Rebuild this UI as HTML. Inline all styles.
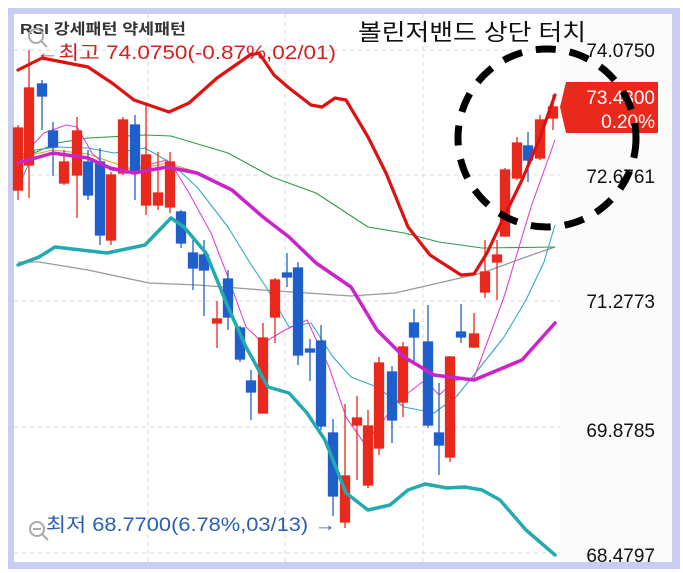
<!DOCTYPE html>
<html><head><meta charset="utf-8"><style>
html,body{margin:0;padding:0;background:#fff;}
svg{display:block;}
text{font-family:"Liberation Sans","Noto Sans CJK KR",sans-serif;}
</style></head><body>
<svg width="683" height="573" viewBox="0 0 683 573" xmlns="http://www.w3.org/2000/svg">
<rect x="0" y="0" width="683" height="573" fill="#fff"/>
<rect x="8" y="8" width="672" height="561" fill="#c9cdef"/>
<rect x="14" y="14" width="658" height="548" fill="#fff"/>
<rect x="560" y="14" width="112" height="548" fill="#fbfbfb"/>
<g stroke="#d8d8d8" stroke-width="1" stroke-dasharray="4,4">
<line x1="14" y1="50" x2="560" y2="50"/><line x1="14" y1="175" x2="560" y2="175"/>
<line x1="14" y1="301" x2="560" y2="301"/><line x1="14" y1="427" x2="560" y2="427"/>
<line x1="14" y1="553" x2="560" y2="553"/>
<line x1="148" y1="14" x2="148" y2="562"/><line x1="285" y1="14" x2="285" y2="562"/><line x1="423" y1="14" x2="423" y2="562"/>
</g>
<g fill="none" stroke-linejoin="round">
<polyline stroke="#999" stroke-width="1.3" points="18,262 39,262 88,270 149,283 197,285 263,290 351,296 395,293 430,285 482,273 526,257 555,247"/>
<polyline stroke="#2e9a4a" stroke-width="1.1" points="18,160 57,143 88,138 145,135 171,136 228,153 272,177 316,193 368,227 404,233 439,242 482,248 555,247"/>
<polyline stroke="#e0a020" stroke-width="1" points="18,158 53,150 88,154 134,170 167,163 197,172"/>
<polyline stroke="#33aabb" stroke-width="1.1" points="20,183 35,150 57,147 88,148 114,153 145,148 171,163 197,187 228,227 250,263 268,290 289,327 311,323 333,357 351,377 377,387 404,407 434,413 456,397 478,370 504,337 526,300 544,262 555,225"/>
<polyline stroke="#dd44cc" stroke-width="1.1" points="20,158 44,133 66,125 77,127 92,153 110,170 127,172 140,167 167,160 175,170 189,193 211,233 228,277 246,327 263,343 285,330 307,320 329,367 346,417 364,443 382,423 395,403 412,390 425,380 439,395 456,380 474,378 504,297 531,207 555,140"/>
</g>
<g stroke-width="1.3">
<g stroke="#e8291c" fill="#e8291c">
<line x1="18" y1="125" x2="18" y2="200"/><rect x="13.5" y="128" width="9" height="62"/>
<line x1="29" y1="50" x2="29" y2="198"/><rect x="24.5" y="88" width="9" height="77"/>
<line x1="64" y1="150" x2="64" y2="185"/><rect x="59.5" y="162" width="9" height="21"/>
<line x1="77" y1="117" x2="77" y2="218"/><rect x="72.5" y="131" width="9" height="44"/>
<line x1="111" y1="172" x2="111" y2="245"/><rect x="106.5" y="175" width="9" height="65"/>
<line x1="123" y1="117" x2="123" y2="175"/><rect x="118.5" y="120" width="9" height="53"/>
<line x1="146" y1="105" x2="146" y2="215"/><rect x="141.5" y="155" width="9" height="50"/>
<line x1="158" y1="152" x2="158" y2="210"/><rect x="153.5" y="193" width="9" height="12"/>
<line x1="170" y1="152" x2="170" y2="213"/><rect x="165.5" y="162" width="9" height="45"/>
<line x1="217" y1="301" x2="217" y2="348"/><rect x="212.5" y="319" width="9" height="4"/>
<line x1="263" y1="323" x2="263" y2="413"/><rect x="258.5" y="338" width="9" height="75"/>
<line x1="275" y1="278" x2="275" y2="343"/><rect x="270.5" y="280" width="9" height="37"/>
<line x1="345" y1="404" x2="345" y2="528"/><rect x="340.5" y="476" width="9" height="46"/>
<line x1="357" y1="396" x2="357" y2="480"/><rect x="352.5" y="418" width="9" height="7"/>
<line x1="368" y1="410" x2="368" y2="488"/><rect x="363.5" y="426" width="9" height="59"/>
<line x1="379" y1="357" x2="379" y2="455"/><rect x="374.5" y="363" width="9" height="85"/>
<line x1="403" y1="342" x2="403" y2="417"/><rect x="398.5" y="347" width="9" height="55"/>
<line x1="450" y1="356" x2="450" y2="462"/><rect x="445.5" y="357" width="9" height="100"/>
<line x1="474" y1="313" x2="474" y2="348"/><rect x="469.5" y="334" width="9" height="13"/>
<line x1="485" y1="240" x2="485" y2="298"/><rect x="480.5" y="272" width="9" height="20"/>
<line x1="497" y1="240" x2="497" y2="300"/><rect x="492.5" y="255" width="9" height="7"/>
<line x1="505" y1="168" x2="505" y2="236"/><rect x="500.5" y="170" width="9" height="66"/>
<line x1="517" y1="137" x2="517" y2="180"/><rect x="512.5" y="143" width="9" height="35"/>
<line x1="540" y1="115" x2="540" y2="160"/><rect x="535.5" y="120" width="9" height="38"/>
<line x1="553" y1="95" x2="553" y2="130"/><rect x="548.5" y="107" width="9" height="11"/>
</g>
<g stroke="#1f5fcc" fill="#1f5fcc">
<line x1="42" y1="80" x2="42" y2="130"/><rect x="37.5" y="84" width="9" height="12"/>
<line x1="53" y1="122" x2="53" y2="176"/><rect x="48.5" y="131" width="9" height="16"/>
<line x1="88" y1="150" x2="88" y2="200"/><rect x="83.5" y="162" width="9" height="33"/>
<line x1="100" y1="148" x2="100" y2="245"/><rect x="95.5" y="162" width="9" height="73"/>
<line x1="135" y1="115" x2="135" y2="200"/><rect x="130.5" y="125" width="9" height="48"/>
<line x1="181" y1="210" x2="181" y2="248"/><rect x="176.5" y="212" width="9" height="31"/>
<line x1="193" y1="240" x2="193" y2="290"/><rect x="188.5" y="253" width="9" height="15"/>
<line x1="204" y1="240" x2="204" y2="316"/><rect x="199.5" y="255" width="9" height="15"/>
<line x1="228" y1="270" x2="228" y2="330"/><rect x="223.5" y="279" width="9" height="38"/>
<line x1="240" y1="326" x2="240" y2="362"/><rect x="235.5" y="328" width="9" height="31"/>
<line x1="251" y1="370" x2="251" y2="420"/><rect x="246.5" y="381" width="9" height="11"/>
<line x1="287" y1="253" x2="287" y2="287"/><rect x="282.5" y="273" width="9" height="4"/>
<line x1="298" y1="262" x2="298" y2="365"/><rect x="293.5" y="268" width="9" height="87"/>
<line x1="310" y1="339" x2="310" y2="381"/><rect x="305.5" y="349" width="9" height="3"/>
<line x1="321" y1="325" x2="321" y2="430"/><rect x="316.5" y="341" width="9" height="85"/>
<line x1="333" y1="419" x2="333" y2="516"/><rect x="328.5" y="433" width="9" height="63"/>
<line x1="392" y1="366" x2="392" y2="443"/><rect x="387.5" y="372" width="9" height="48"/>
<line x1="414" y1="309" x2="414" y2="362"/><rect x="409.5" y="323" width="9" height="14"/>
<line x1="428" y1="305" x2="428" y2="428"/><rect x="423.5" y="342" width="9" height="83"/>
<line x1="439" y1="383" x2="439" y2="475"/><rect x="434.5" y="433" width="9" height="12"/>
<line x1="461" y1="304" x2="461" y2="343"/><rect x="456.5" y="332" width="9" height="5"/>
<line x1="528" y1="132" x2="528" y2="182"/><rect x="523.5" y="146" width="9" height="14"/>
</g>
</g>
<g fill="none" stroke-linejoin="round" stroke-linecap="round">
<polyline stroke="#cc22cc" stroke-width="3.5" points="18,163 53,153 88,158 110,168 134,173 167,167 197,173 232,190 263,217 289,237 316,263 351,287 377,330 404,357 434,375 474,380 522,360 555,323"/>
<polyline stroke="#22aab0" stroke-width="3.5" points="18,265 39,257 55,247 107,253 145,245 171,218 184,227 206,253 228,307 246,347 268,387 289,393 307,413 325,440 346,493 368,510 390,505 408,490 425,484 447,488 465,487 482,490 500,500 526,530 555,555"/>
<polyline stroke="#dd1111" stroke-width="3.2" points="18,70 42,58 88,67 112,83 134,100 169,112 189,103 217,78 250,55 259,53 274,75 289,88 311,105 322,107 335,98 346,100 368,137 386,173 408,227 430,255 461,275 474,274 487,253 504,217 522,180 539,140 555,95"/>
</g>
<polygon points="560,107 566,82 658,82 658,133 566,133" fill="#e8291c"/>
<text x="655" y="104" font-size="19" fill="#fff" text-anchor="end">73.4300</text>
<text x="655" y="128" font-size="19" fill="#fff" text-anchor="end">0.20%</text>
<g font-size="19" fill="#111" text-anchor="end">
<text x="655" y="57">74.0750</text><text x="655" y="183">72.6761</text>
<text x="655" y="308">71.2773</text><text x="655" y="437">69.8785</text>
<text x="655" y="562">68.4797</text>
</g>
<circle cx="547" cy="138" r="89" fill="none" stroke="#000" stroke-width="7" stroke-dasharray="20,14"/>
<text x="20" y="34" font-size="15" font-weight="bold" fill="#333" textLength="166" lengthAdjust="spacingAndGlyphs">RSI 강세패턴 약세패턴</text>
<text x="358" y="40" font-size="23" fill="#111" textLength="228" lengthAdjust="spacingAndGlyphs">볼린저밴드 상단 터치</text>
<text x="36" y="59" font-size="19" fill="#d42020" textLength="300" lengthAdjust="spacingAndGlyphs">←최고 74.0750(-0.87%,02/01)</text>
<text x="46" y="531" font-size="19" fill="#2a5fb0" textLength="290" lengthAdjust="spacingAndGlyphs">최저 68.7700(6.78%,03/13) →</text>
<g fill="none" stroke="#aaa" stroke-width="2">
<circle cx="36" cy="36" r="7"/><line x1="41" y1="41" x2="47" y2="47"/>
<circle cx="37" cy="529" r="7"/><line x1="42" y1="534" x2="48" y2="540"/><line x1="33" y1="529" x2="41" y2="529"/>
</g>
</svg>
</body></html>
